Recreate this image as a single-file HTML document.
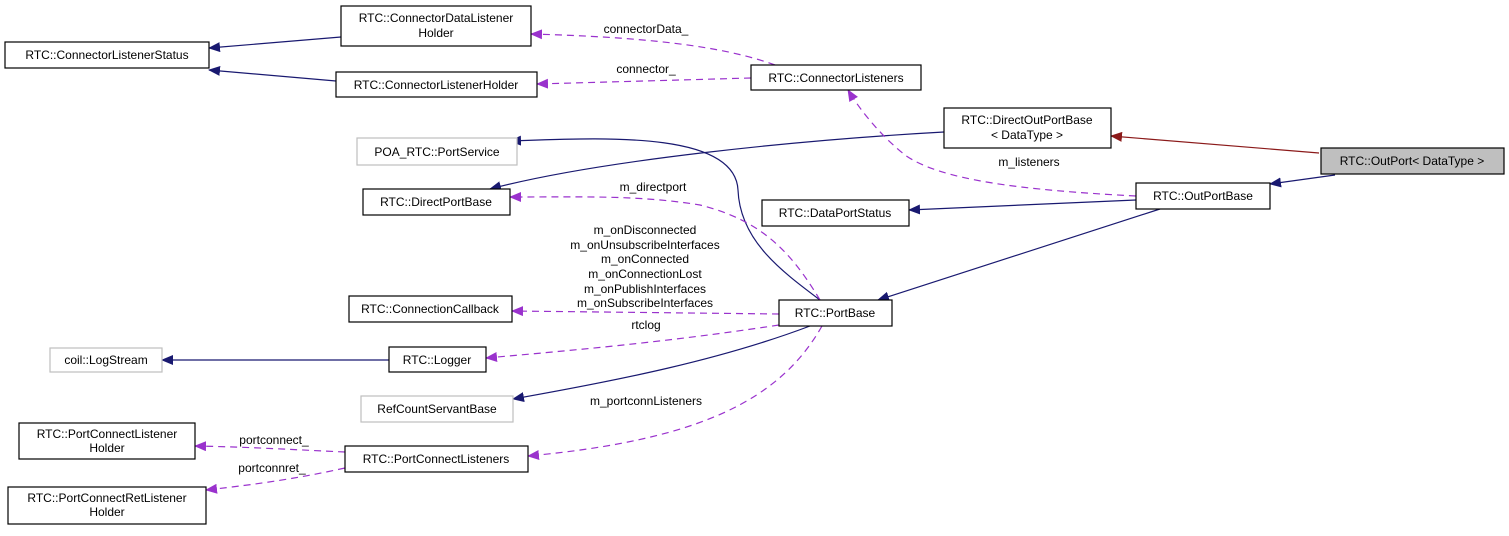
<!DOCTYPE html>
<html><head><meta charset="utf-8"><style>
html,body{margin:0;padding:0;background:#fff;}
svg text{font-family:"Liberation Sans",sans-serif;font-size:12px;fill:#000;}
</style></head><body>
<svg width="1509" height="531" viewBox="0 0 1509 531" xmlns="http://www.w3.org/2000/svg">
<defs>
<marker id="an" markerWidth="12" markerHeight="10" refX="11" refY="5" orient="auto" markerUnits="userSpaceOnUse"><path d="M0,0 L12,5 L0,10 z" fill="#191970"/></marker>
<marker id="ar" markerWidth="12" markerHeight="10" refX="11" refY="5" orient="auto" markerUnits="userSpaceOnUse"><path d="M0,0 L12,5 L0,10 z" fill="#8b1a1a"/></marker>
<marker id="ap" markerWidth="12" markerHeight="10" refX="11" refY="5" orient="auto" markerUnits="userSpaceOnUse"><path d="M0,0 L12,5 L0,10 z" fill="#9a32cd"/></marker>
</defs>
<g fill="none" stroke-width="1.2">
<!-- navy inheritance -->
<path d="M341,37 L209,48" stroke="#191970" marker-end="url(#an)"/>
<path d="M336,81 L209,70" stroke="#191970" marker-end="url(#an)"/>
<path d="M1335,175 L1270,184" stroke="#191970" marker-end="url(#an)"/>
<path d="M1136,200 L909,210" stroke="#191970" marker-end="url(#an)"/>
<path d="M1160,209 L878,300" stroke="#191970" marker-end="url(#an)"/>
<path d="M944,132 C800,140 600,160 490,189" stroke="#191970" marker-end="url(#an)"/>
<path d="M820,300 C780,270 740,240 738,190 C735,130 600,138 510,141" stroke="#191970" marker-end="url(#an)"/>
<path d="M389,360 L162,360" stroke="#191970" marker-end="url(#an)"/>
<path d="M810,326 C720,360 620,380 513,399" stroke="#191970" marker-end="url(#an)"/>
<!-- red -->
<path d="M1319,153 L1111,136" stroke="#8b1a1a" marker-end="url(#ar)"/>
<!-- purple dashed -->
<g stroke="#9a32cd" stroke-dasharray="7,5">
<path d="M775,65 C720,45 640,37 531,34" marker-end="url(#ap)"/>
<path d="M751,78 L537,84" marker-end="url(#ap)"/>
<path d="M1136,196 C1020,190 940,180 905,155 C880,135 860,110 848,90" marker-end="url(#ap)"/>
<path d="M820,300 C790,250 760,220 700,205 C640,195 580,197 510,197" marker-end="url(#ap)"/>
<path d="M779,314 L512,311" marker-end="url(#ap)"/>
<path d="M779,325 C680,340 600,348 486,358" marker-end="url(#ap)"/>
<path d="M822,326 C780,400 700,440 528,456" marker-end="url(#ap)"/>
<path d="M345,452 C300,450 250,447 195,446" marker-end="url(#ap)"/>
<path d="M345,468 C300,478 260,484 206,490" marker-end="url(#ap)"/>
</g>
</g>
<!-- nodes -->
<g stroke-width="1.2" fill="#fff">
<rect x="5" y="42" width="204" height="26" stroke="#000"/>
<rect x="341" y="6" width="190" height="40" stroke="#000"/>
<rect x="336" y="72" width="201" height="25" stroke="#000"/>
<rect x="751" y="65" width="170" height="25" stroke="#000"/>
<rect x="944" y="108" width="167" height="40" stroke="#000"/>
<rect x="1321" y="148" width="183" height="26" stroke="#000" fill="#bfbfbf"/>
<rect x="357" y="138" width="160" height="27" stroke="#bfbfbf"/>
<rect x="363" y="189" width="147" height="26" stroke="#000"/>
<rect x="762" y="200" width="147" height="26" stroke="#000"/>
<rect x="1136" y="183" width="134" height="26" stroke="#000"/>
<rect x="349" y="296" width="163" height="26" stroke="#000"/>
<rect x="779" y="300" width="113" height="26" stroke="#000"/>
<rect x="50" y="348" width="112" height="24" stroke="#bfbfbf"/>
<rect x="389" y="347" width="97" height="25" stroke="#000"/>
<rect x="361" y="396" width="152" height="26" stroke="#bfbfbf"/>
<rect x="19" y="423" width="176" height="36" stroke="#000"/>
<rect x="345" y="446" width="183" height="26" stroke="#000"/>
<rect x="8" y="487" width="198" height="37" stroke="#000"/>
</g>
<g text-anchor="middle">
<text x="107" y="59">RTC::ConnectorListenerStatus</text>
<text x="436" y="22">RTC::ConnectorDataListener</text>
<text x="436" y="37">Holder</text>
<text x="436" y="89">RTC::ConnectorListenerHolder</text>
<text x="836" y="82">RTC::ConnectorListeners</text>
<text x="1027" y="124">RTC::DirectOutPortBase</text>
<text x="1027" y="139">&lt; DataType &gt;</text>
<text x="1412" y="165">RTC::OutPort&lt; DataType &gt;</text>
<text x="437" y="156">POA_RTC::PortService</text>
<text x="436" y="206">RTC::DirectPortBase</text>
<text x="835" y="217">RTC::DataPortStatus</text>
<text x="1203" y="200">RTC::OutPortBase</text>
<text x="430" y="313">RTC::ConnectionCallback</text>
<text x="835" y="317">RTC::PortBase</text>
<text x="106" y="364">coil::LogStream</text>
<text x="437" y="364">RTC::Logger</text>
<text x="437" y="413">RefCountServantBase</text>
<text x="107" y="438">RTC::PortConnectListener</text>
<text x="107" y="452">Holder</text>
<text x="436" y="463">RTC::PortConnectListeners</text>
<text x="107" y="502">RTC::PortConnectRetListener</text>
<text x="107" y="516">Holder</text>
<!-- edge labels -->
<text x="646" y="33">connectorData_</text>
<text x="646" y="73">connector_</text>
<text x="1029" y="166">m_listeners</text>
<text x="653" y="191">m_directport</text>
<text x="645" y="234">m_onDisconnected</text>
<text x="645" y="249">m_onUnsubscribeInterfaces</text>
<text x="645" y="263">m_onConnected</text>
<text x="645" y="278">m_onConnectionLost</text>
<text x="645" y="293">m_onPublishInterfaces</text>
<text x="645" y="307">m_onSubscribeInterfaces</text>
<text x="646" y="329">rtclog</text>
<text x="646" y="405">m_portconnListeners</text>
<text x="274" y="444">portconnect_</text>
<text x="272" y="472">portconnret_</text>
</g>
</svg>
</body></html>
